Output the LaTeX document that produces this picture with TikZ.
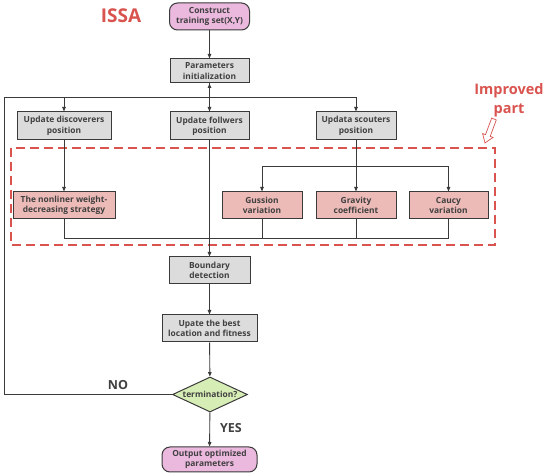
\documentclass[tikz,border=0pt]{standalone}
\usepackage{fontspec}
\setmainfont{Open Sans}
\usetikzlibrary{arrows.meta,shapes.geometric}

\definecolor{linegray}{HTML}{3A3A3A}
\definecolor{textgray}{HTML}{404040}
\definecolor{boxgray}{HTML}{DCDCDC}
\definecolor{startpink}{HTML}{EBB8DE}
\definecolor{imppink}{HTML}{ECBAB7}
\definecolor{decgreen}{HTML}{D7EDB6}
\definecolor{impred}{HTML}{D9534F}

\tikzset{
  stepbox/.style={draw=linegray, line width=1pt, fill=boxgray, minimum width=#1,
    minimum height=27pt, inner sep=0pt, align=center, text=textgray,
    font=\bfseries\fontsize{8.4}{10.4}\selectfont},
  endbox/.style={stepbox=#1, fill=startpink, rounded corners=8pt},
  impbox/.style={stepbox=#1, fill=imppink},
  decbox/.style={draw=linegray, line width=1pt, fill=decgreen, diamond, aspect=2.1,
    minimum width=75pt, minimum height=35pt, inner sep=0pt, text=textgray,
    font=\bfseries\fontsize{8.4}{10.4}\selectfont},
  flow/.style={draw=linegray, line width=0.9pt},
  lbl/.style={text=textgray, font=\bfseries\fontsize{12.5}{14}\selectfont},
  >={Triangle[length=4.5pt,width=3.5pt]}
}

\begin{document}
\begin{tikzpicture}[x=1pt,y=-1pt]
\useasboundingbox (0,0) rectangle (550,476);

% title
\node[text=impred, font=\bfseries\fontsize{19}{22}\selectfont] (title) at (121,16) {ISSA};

% main column
\node[endbox=80pt] (construct) at (209.5,16.5) {Construct\\training set(X,Y)};
\node[stepbox=79pt, minimum height=24pt] (params) at (209.5,71) {Parameters\\initialization};
\node[stepbox=94pt, minimum height=28pt] (disc) at (64,126) {Update discoverers\\position};
\node[stepbox=79pt, minimum height=28pt] (foll) at (209.5,126) {Update follwers\\position};
\node[stepbox=80pt, minimum height=28pt] (scout) at (356,126) {Updata scouters\\position};

% improved part
\node[impbox=102pt] (nonlin) at (64,205.5) {The nonliner weight-\\decreasing strategy};
\node[impbox=80pt] (guss) at (262,205.5) {Gussion\\variation};
\node[impbox=80pt] (grav) at (356,205.5) {Gravity\\coefficient};
\node[impbox=79pt] (cauc) at (448.5,205.5) {Caucy\\variation};
\draw[impred, line width=2pt, dash pattern=on 9pt off 5pt] (11,148) rectangle (495,245);
\node[text=impred, align=center, font=\bfseries\fontsize{14.5}{19}\selectfont] (imptext) at (509,100) {Improved\\part};
\draw[impred, line width=0.7pt, fill=white, line join=miter]
  (496.3,119.9) -- (490.2,136.4) -- (493.0,137.4) -- (485,143)
  -- (482.6,133.6) -- (485.5,134.6) -- (491.7,118.1) -- cycle;

\node[stepbox=81pt] (bound) at (209.5,270.5) {Boundary\\detection};
\node[stepbox=95pt] (best) at (209.5,328.5) {Upate the best\\location and fitness};
\node[decbox] (term) at (210,394.5) {termination?};
\node[endbox=95pt, minimum height=25pt] (output) at (209.5,459.5) {Output optimized\\parameters};

% connectors
\coordinate (loop) at (209.5,97);
\coordinate (back) at (4,97);
\coordinate (split) at (356,166);
\coordinate (join) at (209.5,238);

\draw[flow,->] (construct) -- (params);
\draw[flow,->] (params) -- (foll);
\draw[flow,->] (term.west) -| (back) -- (loop) -- (params.south);
\draw[flow,->] (loop) -| (disc.north);
\draw[flow,->] (loop) -| (scout.north);

\draw[flow,->] (disc) -- (nonlin);
\draw[flow] (scout.south) -- (split);
\draw[flow,->] (split) -| (guss.north);
\draw[flow,->] (split) -- (grav.north);
\draw[flow,->] (split) -| (cauc.north);

\draw[flow] (nonlin.south) |- (join);
\draw[flow] (guss.south) |- (join);
\draw[flow] (grav.south) |- (join);
\draw[flow] (cauc.south) |- (join);
\draw[flow,->] (foll) -- (bound);

\draw[flow,->] (bound) -- (best);
\draw[flow,->] (best) -- (term);
\draw[flow,->] (term) -- (output);

\node[lbl] (no) at (118,385) {NO};
\node[lbl] (yes) at (231,428) {YES};
\end{tikzpicture}
\end{document}
